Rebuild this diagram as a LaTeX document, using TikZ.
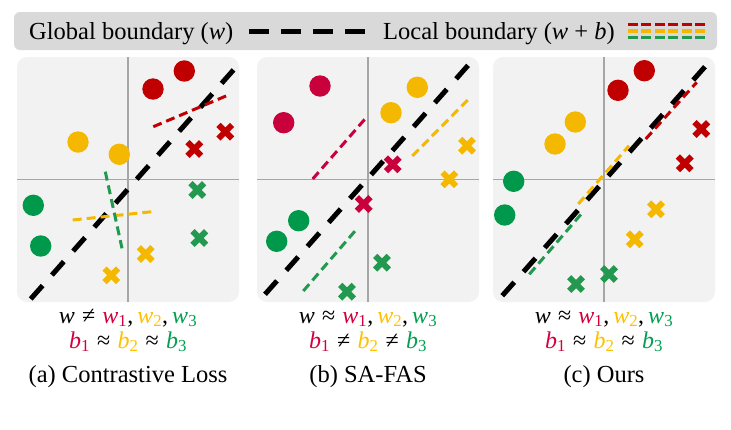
\documentclass[tikz,border=0pt]{standalone}
\usepackage{fontspec}
\setmainfont{Liberation Serif}
\definecolor{panelbg}{HTML}{F2F2F2}
\definecolor{legbg}{HTML}{D9D9D9}
\definecolor{axisgray}{HTML}{A6A6A6}
\definecolor{redA}{HTML}{C00000}
\definecolor{crim}{HTML}{C8003C}
\definecolor{yel}{HTML}{F5B800}
\definecolor{grn}{HTML}{00994C}
\definecolor{grnx}{HTML}{23994F}
\definecolor{tw1}{HTML}{D2003C}
\definecolor{tw2}{HTML}{FFC000}
\definecolor{tw3}{HTML}{00A050}
\tikzset{
  panel/.style={fill=panelbg, rounded corners=10pt},
  axisline/.style={draw=axisgray, line width=1.5pt},
  glob/.style={draw=black, line width=5pt, dash pattern=on 18pt off 14pt},
  loc/.style={line width=3pt, dash pattern=on 9pt off 5pt},
  xmark/.pic={\draw[line width=6pt, pic actions] (-6.8,-6.8) -- (6.8,6.8) (-6.8,6.8) -- (6.8,-6.8);},
  bigfont/.style={font=\fontsize{24.5}{29}\selectfont},
  frmfont/.style={font=\fontsize{24}{28}\selectfont},
}
\newcommand\dotat[2]{\fill[#1] #2 circle (10.7pt);}
\newcommand\rel[1]{\hspace{0.3em}#1\hspace{0.3em}}
\begin{document}
\begin{tikzpicture}[x=1pt,y=-1pt]
\useasboundingbox (0,0) rectangle (731,429);
% legend
\fill[legbg, rounded corners=6pt] (14,12) rectangle (717,50);
\node[bigfont, anchor=base west, inner sep=0pt] (gl) at (29,39.5) {Global boundary (\textit{w})};
\node[bigfont, anchor=base west, inner sep=0pt] (ll) at (383,39.5) {Local boundary (\textit{w} + \textit{b})};
\coordinate (ga) at (249,31); \coordinate (gb) at (366,31);
\draw[black, line width=5pt, dash pattern=on 20pt off 12pt] (ga) -- (gb);
\coordinate (la1) at (628,24.5); \coordinate (lb1) at (706,24.5);
\coordinate (la2) at (628,31); \coordinate (lb2) at (706,31);
\coordinate (la3) at (628,37.5); \coordinate (lb3) at (706,37.5);
\draw[redA, line width=3.5pt, dash pattern=on 10pt off 3.4pt] (la1) -- (lb1);
\draw[yel, line width=3.5pt, dash pattern=on 10pt off 3.4pt] (la2) -- (lb2);
\draw[grnx, line width=3.5pt, dash pattern=on 10pt off 3.4pt] (la3) -- (lb3);

% panel 1
\fill[panel] (17,57) rectangle (239,302);
\draw[axisline] (128,57) -- (128,302) (17,179.5) -- (239,179.5);
\draw[glob] (30.7,299) -- (234.3,69);
\draw[loc, redA] (153.3,126.7) -- (226.7,95.7);
\draw[loc, yel] (72.7,220) -- (152,211.7);
\draw[loc, grnx] (105.3,171.7) -- (122,248.3);
\dotat{redA}{(184.3,71)} \dotat{redA}{(153,89)}
\dotat{yel}{(78,142)} \dotat{yel}{(119.3,154.3)}
\dotat{grn}{(33.3,205.3)} \dotat{grn}{(40.7,246)}
\pic[color=redA] at (225.3,131.7) {xmark};
\pic[color=redA] at (194.3,149) {xmark};
\pic[color=grnx] at (197.3,190) {xmark};
\pic[color=grnx] at (199.3,238) {xmark};
\pic[color=yel] at (145.7,254) {xmark};
\pic[color=yel] at (111.3,275.3) {xmark};

% panel 2
\fill[panel] (257,57) rectangle (479,302);
\draw[axisline] (368,57) -- (368,302) (257,179.5) -- (479,179.5);
\draw[glob] (265,294.3) -- (469,64.3);
\draw[loc, crim] (312.7,179) -- (365,119);
\draw[loc, yel] (412.3,156) -- (467.7,100);
\draw[loc, grnx] (303.3,291) -- (355.3,230.7);
\dotat{crim}{(320,86)} \dotat{crim}{(283.7,122.7)}
\dotat{yel}{(417.3,87.3)} \dotat{yel}{(391,112.7)}
\dotat{grn}{(298.7,220.7)} \dotat{grn}{(276.7,241.3)}
\pic[color=crim] at (392.7,164.3) {xmark};
\pic[color=crim] at (363.7,204) {xmark};
\pic[color=yel] at (467,145.7) {xmark};
\pic[color=yel] at (449.3,179.3) {xmark};
\pic[color=grnx] at (382,262.7) {xmark};
\pic[color=grnx] at (347,291.7) {xmark};

% panel 3
\fill[panel] (493,57) rectangle (715,302);
\draw[axisline] (604,57) -- (604,302) (493,179.5) -- (715,179.5);
\draw[glob] (502.3,295.7) -- (705,66.7);
\draw[loc, redA] (645.7,139) -- (696.7,82.3);
\draw[loc, yel] (578.3,204) -- (629,145.7);
\draw[loc, grnx] (529.3,274.3) -- (581,214.3);
\dotat{redA}{(644.3,70.7)} \dotat{redA}{(618,90.3)}
\dotat{yel}{(575.3,122)} \dotat{yel}{(555,144)}
\dotat{grn}{(513.7,181.3)} \dotat{grn}{(504.7,215)}
\pic[color=redA] at (701.3,129) {xmark};
\pic[color=redA] at (684.7,163.3) {xmark};
\pic[color=yel] at (656,209.3) {xmark};
\pic[color=yel] at (634.7,239.3) {xmark};
\pic[color=grnx] at (609,274) {xmark};
\pic[color=grnx] at (576,284) {xmark};

% formulas and captions
\node[frmfont, anchor=base, inner sep=0pt] (fa1) at (128,323) {\textit{w}\rel{≠}\textcolor{tw1}{\textit{w}\textsubscript{1}},\,\textcolor{tw2}{\textit{w}\textsubscript{2}},\,\textcolor{tw3}{\textit{w}\textsubscript{3}}};
\node[frmfont, anchor=base, inner sep=0pt] (fa2) at (128,348) {\textcolor{tw1}{\textit{b}\textsubscript{1}}\rel{≈}\textcolor{tw2}{\textit{b}\textsubscript{2}}\rel{≈}\textcolor{tw3}{\textit{b}\textsubscript{3}}};
\node[bigfont, anchor=base, inner sep=0pt] (ca) at (128,382) {(a) Contrastive Loss};

\node[frmfont, anchor=base, inner sep=0pt] (fb1) at (368,323) {\textit{w}\rel{≈}\textcolor{tw1}{\textit{w}\textsubscript{1}},\,\textcolor{tw2}{\textit{w}\textsubscript{2}},\,\textcolor{tw3}{\textit{w}\textsubscript{3}}};
\node[frmfont, anchor=base, inner sep=0pt] (fb2) at (368,348) {\textcolor{tw1}{\textit{b}\textsubscript{1}}\rel{≠}\textcolor{tw2}{\textit{b}\textsubscript{2}}\rel{≠}\textcolor{tw3}{\textit{b}\textsubscript{3}}};
\node[bigfont, anchor=base, inner sep=0pt] (cb) at (368,382) {(b) SA-FAS};

\node[frmfont, anchor=base, inner sep=0pt] (fc1) at (604,323) {\textit{w}\rel{≈}\textcolor{tw1}{\textit{w}\textsubscript{1}},\,\textcolor{tw2}{\textit{w}\textsubscript{2}},\,\textcolor{tw3}{\textit{w}\textsubscript{3}}};
\node[frmfont, anchor=base, inner sep=0pt] (fc2) at (604,348) {\textcolor{tw1}{\textit{b}\textsubscript{1}}\rel{≈}\textcolor{tw2}{\textit{b}\textsubscript{2}}\rel{≈}\textcolor{tw3}{\textit{b}\textsubscript{3}}};
\node[bigfont, anchor=base, inner sep=0pt] (cc) at (604,382) {(c) Ours};
\end{tikzpicture}
\end{document}
